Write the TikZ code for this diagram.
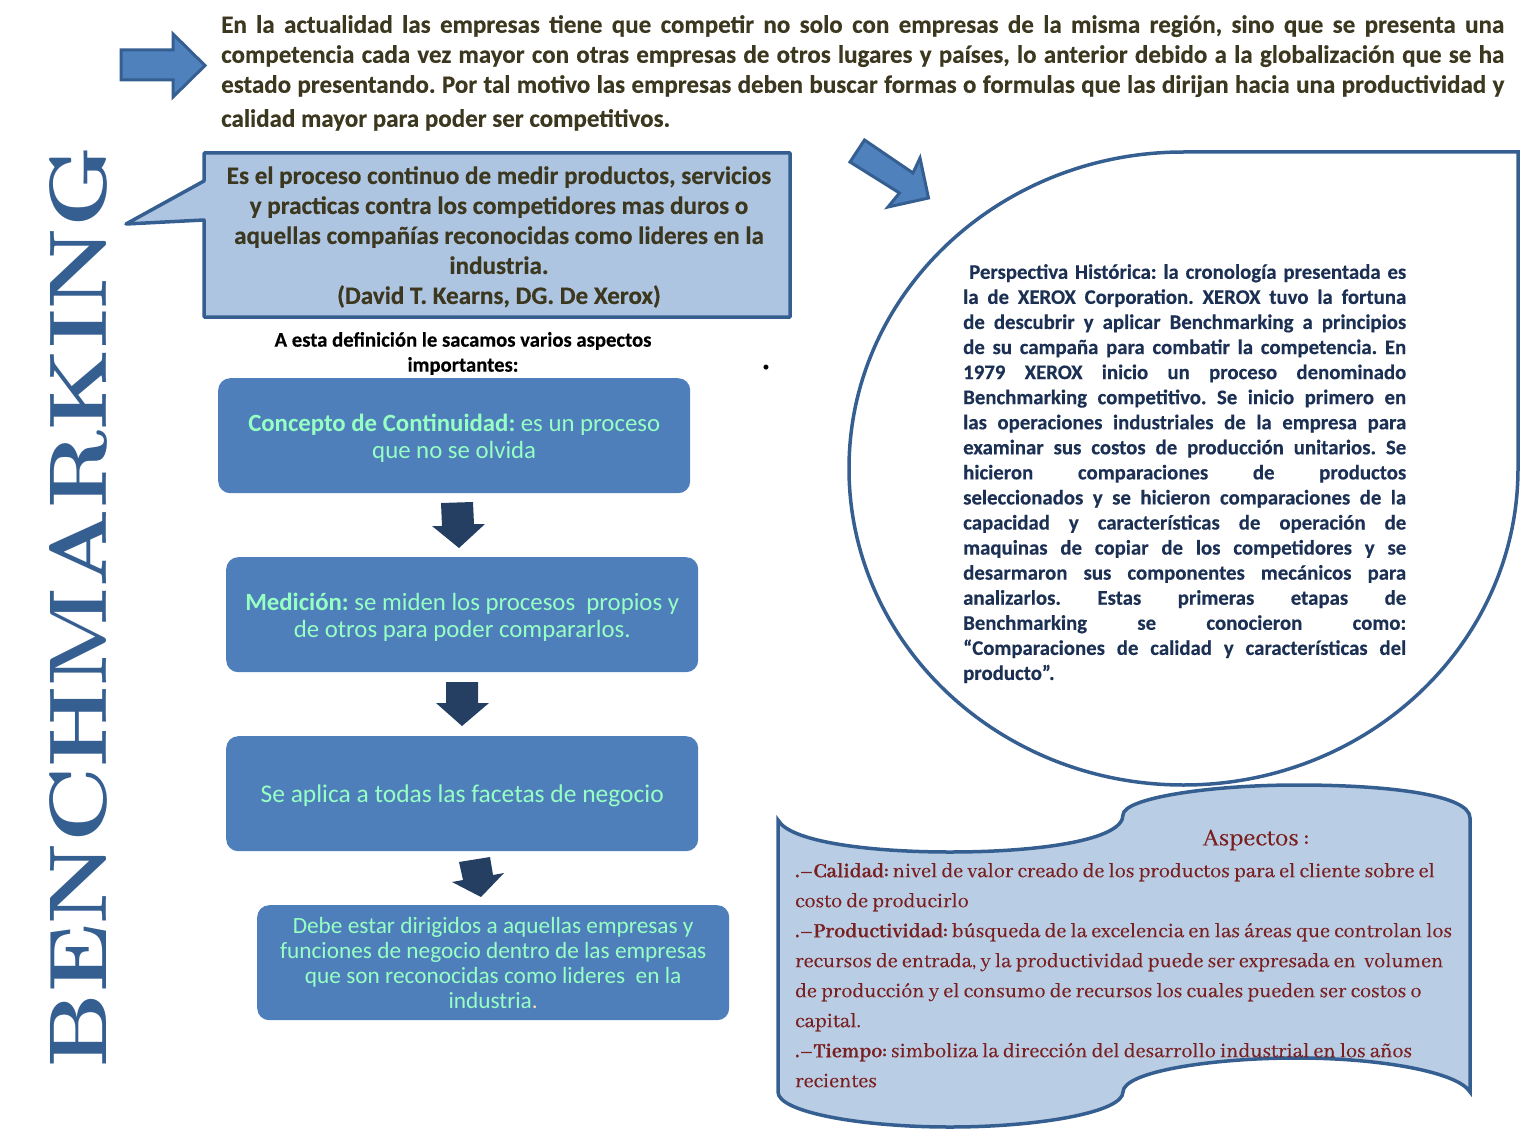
\documentclass[tikz,border=0pt]{standalone}
\usepackage{fontspec}
\usepackage{graphicx}
\setmainfont{Carlito}
\newfontfamily\negrita[BoldFeatures={FakeBold=0.35}]{Carlito}
\newfontfamily\garafont[FakeBold=0.35,BoldFeatures={FakeBold=0.8}]{Abhaya Libre}
\definecolor{bordeazul}{HTML}{365F91}
\definecolor{flechaazul}{HTML}{4F81BD}
\definecolor{flechaoscura}{HTML}{243F62}
\definecolor{cajaazul}{HTML}{4F7FBA}
\definecolor{cuadroazul}{HTML}{AEC5E1}
\definecolor{cintaazul}{HTML}{B9CDE5}
\definecolor{verdeclaro}{HTML}{96FFC4}
\definecolor{oliva}{HTML}{3C3820}
\definecolor{marino}{HTML}{1C3054}
\definecolor{vino}{HTML}{7A1F1F}
\tikzset{
  arrowblue/.style={draw=bordeazul,line width=3pt,fill=flechaazul,line join=miter},
  arrowdark/.style={fill=flechaoscura},
  outline/.style={draw=bordeazul,line width=3.5pt},
  concept/.style={fill=cajaazul,rounded corners=12pt,minimum width=472pt,minimum height=115pt,
    anchor=north west,inner sep=0pt,align=center,text=verdeclaro,
    font=\fontsize{24.8}{27}\selectfont},
  textbase/.style={inner sep=0pt,anchor=north west},
}
\begin{document}
\frenchspacing
\begin{tikzpicture}[x=1pt,y=-1pt]
\useasboundingbox (0,0) rectangle (1521,1129);
% titulo
\node[rotate=90,inner sep=0pt,text=bordeazul] (title) at (78.5,606.5)
  {\resizebox{921pt}{57pt}{\fontspec{Latin Modern Roman}\bfseries BENCHMARKING}};
% flechas grandes
\draw[arrowblue] (121,50)--(173,50)--(173,34)--(205,65.5)--(173,97)--(173,80)--(121,80)--cycle;
\draw[arrowblue] (864.5,140)--(913,173)--(920,158)--(928.5,198)--(888,207)--(899.5,193)--(850,162)--cycle;
% texto superior
\node[textbase,text width=1283pt,align=justify,text=oliva,font=\negrita\fontsize{25}{30}\selectfont\bfseries] (intro) at (221,15)
 {En la actualidad las empresas tiene que competir no solo con empresas de la misma región, sino que se presenta una\linebreak
  competencia cada vez mayor con otras empresas de otros lugares y países, lo anterior debido a la globalización que se ha\linebreak
  estado presentando. Por tal motivo las empresas deben buscar formas o formulas que las dirijan hacia una productividad y{\parfillskip=0pt\par}\vspace{4pt}
  calidad mayor para poder ser competitivos.};
% definicion
\draw[outline,fill=cuadroazul,line join=round] (204,153)--(790,153)--(790,317)--(204,317)--(204,220)--(126,224)--(204,181)--cycle;
\node[inner sep=0pt,align=center,text=oliva,font=\negrita\fontsize{25.1}{30}\selectfont\bfseries] (defn) at (499,237)
 {Es el proceso continuo de medir productos, servicios\\
  y practicas contra los competidores mas duros o\\
  aquellas compañías reconocidas como lideres en la\\
  industria.\\
  (David T. Kearns, DG. De Xerox)};
\node[inner sep=0pt,align=center,font=\negrita\fontsize{20.7}{25}\selectfont\bfseries] (aspectosdef) at (463,353.5)
 {A esta definición le sacamos varios aspectos\\importantes:};
\node[inner sep=0pt,font=\fontsize{14}{14}\selectfont] (punto) at (766,368) {\textbullet};
% cajas
\node[concept] (continuidad) at (218,378) {\rule{0pt}{23pt}\textbf{Concepto de Continuidad:} es un proceso\\que no se olvida};
\node[concept] (medicion) at (226,557) {\rule{0pt}{23pt}\textbf{Medición:} se miden los procesos~ propios y\\de otros para poder compararlos.};
\node[concept,font=\fontsize{25.5}{27}\selectfont] (facetas) at (226,736) {\rule{0pt}{21pt}Se aplica a todas las facetas de negocio};
\node[concept,font=\fontsize{23.3}{25}\selectfont] (dirigidos) at (257,905)
 {Debe estar dirigidos a aquellas empresas y\\
  funciones de negocio dentro de las empresas\\
  que son reconocidas como lideres~ en la\\
  industria\textcolor{orange!30}{.}};
\fill[arrowdark] (441,503)--(473,502)--(474,524)--(485,524)--(459,548)--(432,526)--(442,526)--cycle;
\fill[arrowdark] (446,682)--(478,682)--(478,703)--(489,703)--(462,726)--(436,703)--(446,703)--cycle;
\fill[arrowdark] (459,862)--(490,857)--(493,875)--(504,873)--(481,897)--(452,882)--(463,880)--cycle;
% perspectiva
\draw[outline] (1518,468.5) arc (0:270:334.5 and 316.5) -- (1518,152) -- cycle;
\node[textbase,text width=443pt,align=justify,text=marino,font=\negrita\fontsize{20.8}{25.07}\selectfont\bfseries] (historia) at (963,264)
 {\hspace*{6pt}Perspectiva Histórica: la cronología presentada es\linebreak
  la de XEROX Corporation. XEROX tuvo la fortuna\linebreak
  de descubrir y aplicar Benchmarking a principios\linebreak
  de su campaña para combatir la competencia. En\linebreak
  1979 XEROX inicio un proceso denominado\linebreak
  Benchmarking competitivo. Se inicio primero en\linebreak
  las operaciones industriales de la empresa para\linebreak
  examinar sus costos de producción unitarios. Se\linebreak
  hicieron comparaciones de productos\linebreak
  seleccionados y se hicieron comparaciones de la\linebreak
  capacidad y características de operación de\linebreak
  maquinas de copiar de los competidores y se\linebreak
  desarmaron sus componentes mecánicos para\linebreak
  analizarlos. Estas primeras etapas de\linebreak
  Benchmarking se conocieron como:\linebreak
  “Comparaciones de calidad y características del\linebreak
  producto”.};
% aspectos
\draw[outline,fill=cintaazul] (778,820) .. controls (790,842) and (870,852) .. (950,852)
  .. controls (1040,852) and (1123,840) .. (1123,815)
  .. controls (1123,798) and (1210,785) .. (1297,785)
  .. controls (1390,785) and (1470,795) .. (1470,818) -- (1470,1092)
  .. controls (1458,1072) and (1380,1058) .. (1297,1058)
  .. controls (1210,1058) and (1123,1072) .. (1123,1092)
  .. controls (1123,1112) and (1040,1127) .. (950,1127)
  .. controls (860,1127) and (778,1112) .. (778,1092) -- cycle;
\node[inner sep=0pt,text=vino,font=\garafont\fontsize{26.5}{30}\selectfont] (aspectos) at (1256,840) {Aspectos :};
\node[textbase,align=left,text=vino,font=\garafont\fontsize{22}{30}\selectfont] (aspectoslista) at (795,863)
 {\textbf{.–Calidad:} nivel de valor creado de los productos para el cliente sobre el\\
  costo de producirlo\\
  \textbf{.–Productividad:} búsqueda de la excelencia en las áreas que controlan los\\
  recursos de entrada, y la productividad puede ser expresada en~ volumen\\
  de producción y el consumo de recursos los cuales pueden ser costos o\\
  capital.\\
  \textbf{.–Tiempo:} simboliza la dirección del desarrollo industrial en los años\\
  recientes};
\end{tikzpicture}
\end{document}
